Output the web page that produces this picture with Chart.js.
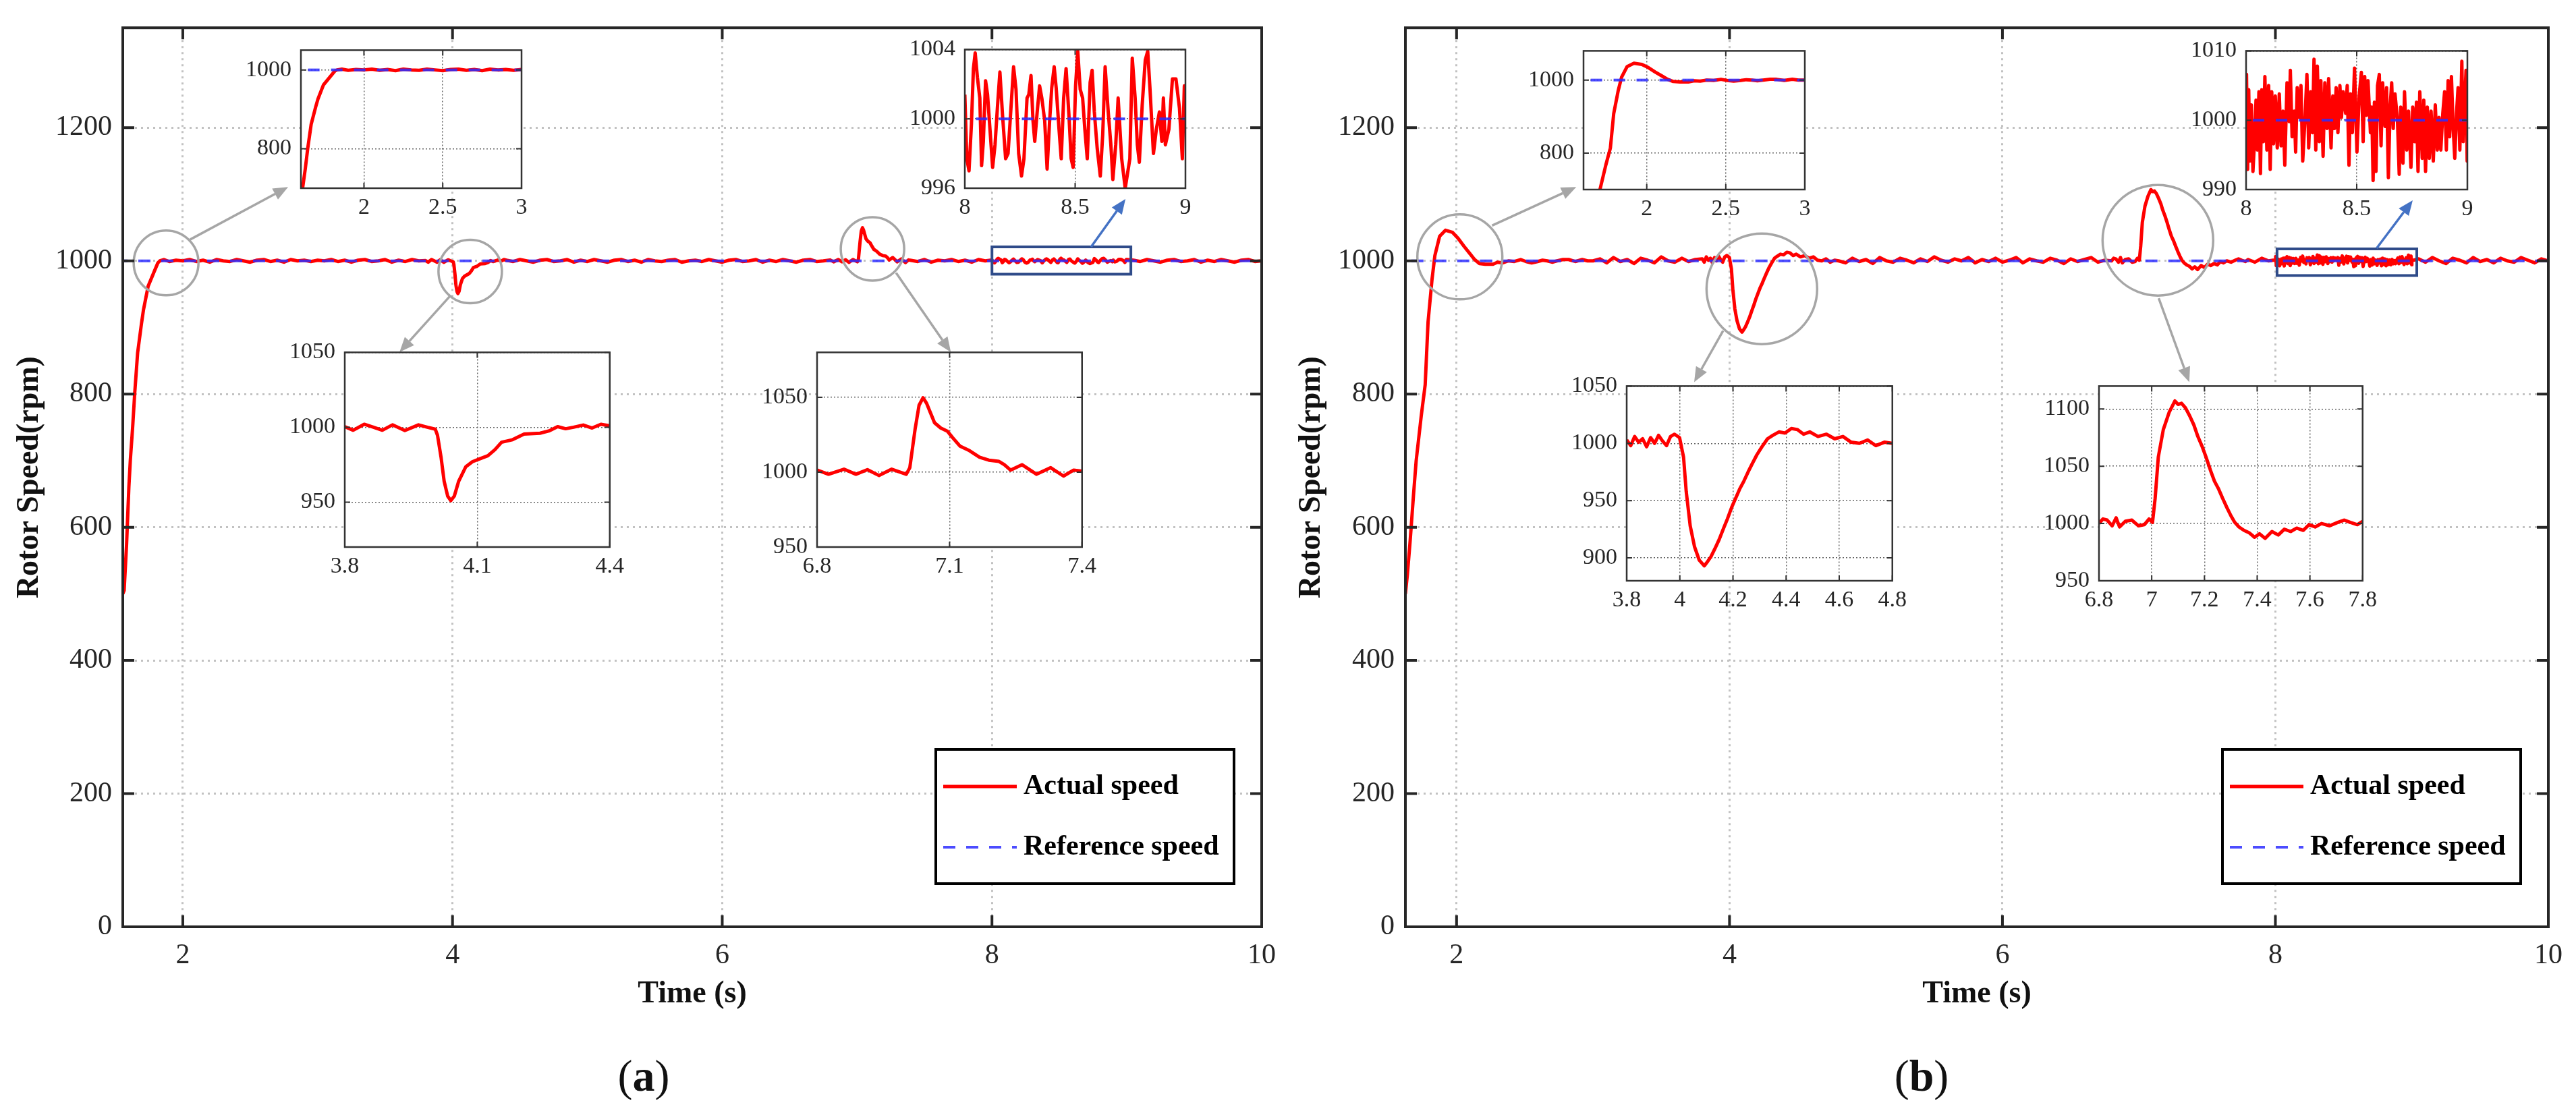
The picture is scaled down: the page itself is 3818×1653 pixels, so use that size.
<!DOCTYPE html>
<html>
<head>
<meta charset="utf-8">
<script src="https://cdn.jsdelivr.net/npm/chart.js@4.4.1/dist/chart.umd.min.js"></script>
<style>
  body { margin: 0; background: #fff; width: 3818px; height: 1653px; position: relative; overflow: hidden; }
  canvas { position: absolute; }
  .cap { position: absolute; top: 1595px; transform: translate(-50%, -50%); font-family: 'Liberation Serif', 'Times New Roman', serif; font-size: 66px; color: #111; white-space: nowrap; }
</style>
</head>
<body>
<canvas id="mainA"></canvas>
<canvas id="mainB"></canvas>
<canvas id="aTL"></canvas><canvas id="aTR"></canvas><canvas id="aBL"></canvas><canvas id="aBR"></canvas>
<canvas id="bTL"></canvas><canvas id="bTR"></canvas><canvas id="bBL"></canvas><canvas id="bBR"></canvas>
<div class="cap" style="left:954px">(<b>a</b>)</div>
<div class="cap" style="left:2848px">(<b>b</b>)</div>
<script>
// ---------- data ----------
// tick labels
const mainXTicks = [2, 4, 6, 8, 10];
const mainYTicks = [0, 200, 400, 600, 800, 1000, 1200];
const startXTicks = [2, 2.5, 3];
const startYTicks = [800, 1000];
const noiseXTicks = [8, 8.5, 9];
const aNoiseYTicks = [996, 1000, 1004];
const bNoiseYTicks = [990, 1000, 1010];
const aDipXTicks = [3.8, 4.1, 4.4];
const aDipYTicks = [950, 1000, 1050];
const aPeakXTicks = [6.8, 7.1, 7.4];
const aPeakYTicks = [950, 1000, 1050];
const bDipXTicks = [3.8, 4, 4.2, 4.4, 4.6, 4.8];
const bDipYTicks = [900, 950, 1000, 1050];
const bPeakXTicks = [6.8, 7, 7.2, 7.4, 7.6, 7.8];
const bPeakYTicks = [950, 1000, 1050, 1100];

// reference speed
const refT = [1.5, 10];
const refV = [1000, 1000];

// (a) actual speed, piece by piece
const aRiseT = [1.555, 1.565, 1.583, 1.6, 1.611, 1.628, 1.643, 1.665, 1.693, 1.708, 1.743, 1.786, 1.815, 1.83, 1.86, 1.9, 1.95, 2.0, 2.05, 2.1, 2.15, 2.2, 2.25, 2.3, 2.35, 2.4, 2.45, 2.5, 2.55, 2.6, 2.65, 2.7, 2.75, 2.8, 2.85, 2.9, 2.95, 3.0];
const aRiseV = [500, 505, 574, 660, 701, 750, 800, 862, 905, 926, 962, 983, 997, 1000, 1002, 999, 1001, 1000, 1002, 999, 1001, 998, 1002, 1000, 999, 1002, 1000, 998, 1001, 1002, 999, 1001, 998, 1002, 1000, 1001, 999, 1001];
const gap1T = [3.05, 3.1, 3.15, 3.2, 3.25, 3.3, 3.35, 3.4, 3.45, 3.5, 3.55, 3.6, 3.65, 3.7, 3.75];
const aGap1V = [1000, 1002, 999, 1001, 998, 1001, 1002, 999, 1000, 1002, 998, 1001, 999, 1002, 1000];
const aDipT = [3.8, 3.819, 3.844, 3.865, 3.885, 3.908, 3.936, 3.967, 3.987, 4.005, 4.01, 4.018, 4.025, 4.033, 4.04, 4.048, 4.058, 4.074, 4.089, 4.104, 4.124, 4.14, 4.155, 4.18, 4.206, 4.242, 4.262, 4.282, 4.3, 4.318, 4.34, 4.36, 4.38, 4.4];
const aDipV = [1000.4, 998, 1002, 1000, 998, 1001.6, 997.8, 1001.6, 1000, 998.7, 994.6, 980, 964, 954, 951, 954, 964, 973.6, 977, 978.7, 981, 985, 990, 991.7, 995.4, 996, 997.5, 1000.4, 999, 1000, 1001.5, 999.5, 1002, 1001];
const aGap2T = [4.45, 4.5, 4.55, 4.6, 4.65, 4.7, 4.75, 4.8, 4.85, 4.9, 4.95, 5.0, 5.05, 5.1, 5.15, 5.2, 5.25, 5.3, 5.35, 5.4, 5.45, 5.5, 5.55, 5.6, 5.65, 5.7, 5.75, 5.8, 5.85, 5.9, 5.95, 6.0, 6.05, 6.1, 6.15, 6.2, 6.25, 6.3, 6.35, 6.4, 6.45, 6.5, 6.55, 6.6, 6.65, 6.7, 6.75];
const aGap2V = [999, 1002, 1000, 998, 1001, 1002, 999, 1000, 1002, 998, 1001, 999, 1002, 1000, 998, 1001, 1002, 999, 1001, 998, 1002, 1000, 999, 1001, 1002, 998, 1000, 1001, 999, 1002, 1000, 998, 1001, 1002, 999, 1000, 1002, 998, 1001, 999, 1002, 1000, 998, 1001, 1002, 999, 1000];
const aPeakT = [6.8, 6.826, 6.861, 6.888, 6.914, 6.94, 6.969, 7.002, 7.01, 7.022, 7.031, 7.04, 7.048, 7.066, 7.08, 7.095, 7.107, 7.124, 7.145, 7.168, 7.189, 7.212, 7.224, 7.238, 7.264, 7.297, 7.329, 7.358, 7.381, 7.4];
const aPeakV = [1001.4, 998.6, 1002, 998.6, 1001.7, 997.8, 1002, 998.6, 1003, 1028.8, 1044.7, 1049.7, 1046, 1033, 1029.5, 1027.4, 1023, 1017.3, 1014.4, 1010, 1008, 1007.2, 1005, 1001.4, 1005, 998.6, 1003, 997.4, 1001.4, 1000.7];
const aGap3T = [7.45, 7.5, 7.55, 7.6, 7.65, 7.7, 7.75, 7.8, 7.85, 7.9, 7.95];
const aGap3V = [999, 1002, 998, 1001, 1000, 1002, 999, 1001, 998, 1002, 1000];
const aNoiseT = [8.000, 8.009, 8.019, 8.030, 8.039, 8.047, 8.057, 8.068, 8.076, 8.084, 8.094, 8.103, 8.114, 8.126, 8.137, 8.148, 8.159, 8.171, 8.185, 8.196, 8.207, 8.221, 8.232, 8.244, 8.257, 8.268, 8.282, 8.290, 8.300, 8.309, 8.317, 8.328, 8.339, 8.349, 8.362, 8.373, 8.384, 8.394, 8.405, 8.414, 8.427, 8.437, 8.448, 8.459, 8.472, 8.482, 8.491, 8.502, 8.512, 8.523, 8.534, 8.544, 8.555, 8.568, 8.577, 8.587, 8.600, 8.614, 8.625, 8.636, 8.650, 8.662, 8.671, 8.684, 8.695, 8.711, 8.727, 8.748, 8.759, 8.772, 8.782, 8.791, 8.804, 8.818, 8.829, 8.839, 8.855, 8.868, 8.882, 8.893, 8.900, 8.909, 8.925, 8.941, 8.957, 8.973, 8.986, 8.995, 9.000];
const aNoiseV = [1001.4, 997.7, 997.0, 999.7, 1002.9, 1003.8, 1002.4, 1001.2, 997.3, 998.7, 1002.2, 1001.4, 999.4, 997.2, 998.5, 1000.7, 1002.7, 1000.2, 997.7, 998.0, 1000.2, 1003.0, 1001.7, 998.0, 996.7, 997.7, 1001.2, 1001.4, 1002.5, 999.9, 998.7, 1000.4, 1001.9, 1001.2, 999.9, 997.1, 999.8, 1001.8, 1003.0, 1001.8, 999.4, 997.7, 1001.2, 1002.9, 1000.2, 997.7, 997.2, 1001.9, 1003.9, 1001.7, 1001.2, 999.4, 997.7, 1002.1, 1002.8, 1000.4, 998.3, 996.7, 999.1, 1003.0, 1000.4, 998.5, 996.5, 998.5, 1001.2, 997.7, 996.0, 997.7, 1003.5, 1001.2, 998.5, 997.5, 1000.8, 1003.4, 1003.9, 1001.8, 998.0, 999.4, 1000.4, 998.7, 1001.2, 998.5, 999.4, 1002.3, 1002.3, 1000.6, 997.7, 1001.9, 1001.9];
const tailT = [9.05, 9.1, 9.15, 9.2, 9.25, 9.3, 9.35, 9.4, 9.45, 9.5, 9.55, 9.6, 9.65, 9.7, 9.75, 9.8, 9.85, 9.9, 9.95, 10.0];
const aTailV = [1001, 999, 1002, 1000, 998, 1001, 1002, 999, 1000, 1002, 998, 1001, 999, 1002, 1000, 998, 1001, 1002, 999, 1000];

// (b) actual speed, piece by piece
const bRiseT = [1.625, 1.64, 1.66, 1.685, 1.704, 1.741, 1.77, 1.791, 1.82, 1.841, 1.876, 1.919, 1.969, 2.011, 2.054, 2.097, 2.132, 2.168, 2.21, 2.267, 2.3, 2.338, 2.38, 2.423, 2.47, 2.509, 2.55, 2.594, 2.63, 2.665, 2.7, 2.736, 2.78, 2.821, 2.87, 2.921, 2.96, 3.0];
const bRiseV = [500, 530, 580, 650, 700, 767, 814, 908, 972, 1008, 1037, 1046, 1043, 1034, 1022, 1011, 1002, 996, 995, 995, 998, 997, 1000, 999, 1002, 999, 997, 999, 1001, 1000, 998, 1000, 1002, 1002, 999, 1002, 1000, 1000];
const bGap1V = [1003, 997, 1005, 999, 1002, 996, 1004, 1001, 997, 1006, 1000, 998, 1004, 999, 1002];
const bDipT = [3.8, 3.815, 3.83, 3.845, 3.86, 3.875, 3.89, 3.905, 3.92, 3.935, 3.95, 3.965, 3.98, 3.999, 4.014, 4.024, 4.039, 4.055, 4.073, 4.092, 4.105, 4.117, 4.132, 4.148, 4.165, 4.179, 4.195, 4.21, 4.225, 4.241, 4.257, 4.272, 4.29, 4.309, 4.33, 4.35, 4.373, 4.396, 4.42, 4.443, 4.466, 4.489, 4.52, 4.552, 4.583, 4.614, 4.645, 4.676, 4.707, 4.738, 4.77, 4.8];
const bDipV = [1003, 998, 1006, 1001, 1004, 997, 1005, 1000, 1007, 1002, 998, 1006, 1008, 1005, 988, 958, 928, 910, 898, 893, 897, 901, 908, 916, 926, 934, 944, 952, 960, 967, 975, 982, 990, 997, 1004, 1007, 1010, 1009, 1013, 1012, 1008, 1010, 1006, 1008, 1004, 1006, 1001, 1000, 1003, 998, 1001, 1000];
const bGap2T = [4.85, 4.9, 4.95, 5.0, 5.05, 5.1, 5.15, 5.2, 5.25, 5.3, 5.35, 5.4, 5.45, 5.5, 5.55, 5.6, 5.65, 5.7, 5.75, 5.8, 5.85, 5.9, 5.95, 6.0, 6.05, 6.1, 6.15, 6.2, 6.25, 6.3, 6.35, 6.4, 6.45, 6.5, 6.55, 6.6, 6.65, 6.7, 6.75];
const bGap2V = [997, 1004, 999, 1002, 996, 1005, 1000, 998, 1004, 1001, 997, 1003, 999, 1006, 1001, 998, 1003, 1000, 1005, 997, 1002, 999, 1004, 998, 1001, 1005, 997, 1003, 1000, 998, 1004, 1001, 996, 1003, 999, 1002, 1005, 998, 1001];
const bPeakT = [6.8, 6.815, 6.831, 6.85, 6.865, 6.878, 6.9, 6.925, 6.95, 6.972, 6.99, 7.003, 7.013, 7.025, 7.044, 7.066, 7.088, 7.1, 7.113, 7.128, 7.144, 7.16, 7.175, 7.19, 7.206, 7.222, 7.238, 7.254, 7.269, 7.285, 7.3, 7.315, 7.331, 7.35, 7.369, 7.39, 7.409, 7.43, 7.456, 7.48, 7.503, 7.527, 7.55, 7.575, 7.597, 7.62, 7.644, 7.675, 7.706, 7.73, 7.753, 7.78, 7.8];
const bPeakV = [1000, 1004, 1003, 998, 1005, 997, 1002, 1003, 998, 999, 1004, 1001, 1022, 1058, 1082, 1097, 1107, 1104, 1105, 1101, 1094, 1086, 1076, 1068, 1058, 1047, 1037, 1030, 1022, 1014, 1007, 1001, 997, 994, 992, 988, 991, 987, 993, 990, 995, 993, 996, 994, 999, 997, 1000, 998, 1001, 1003, 1001, 999, 1002];
const bGap3T = [7.85, 7.9, 7.95];
const bGap3V = [998, 1004, 1000];
const bNoiseT = [8.000, 8.002, 8.007, 8.012, 8.017, 8.024, 8.031, 8.038, 8.045, 8.051, 8.058, 8.065, 8.071, 8.078, 8.085, 8.094, 8.102, 8.109, 8.116, 8.124, 8.132, 8.141, 8.150, 8.158, 8.167, 8.175, 8.185, 8.195, 8.200, 8.208, 8.218, 8.224, 8.231, 8.241, 8.248, 8.256, 8.267, 8.275, 8.283, 8.292, 8.300, 8.307, 8.315, 8.322, 8.331, 8.338, 8.348, 8.356, 8.366, 8.373, 8.384, 8.392, 8.399, 8.407, 8.415, 8.424, 8.431, 8.439, 8.450, 8.457, 8.465, 8.472, 8.480, 8.490, 8.501, 8.511, 8.521, 8.529, 8.536, 8.544, 8.551, 8.562, 8.568, 8.574, 8.580, 8.587, 8.594, 8.602, 8.610, 8.617, 8.628, 8.635, 8.643, 8.651, 8.658, 8.665, 8.673, 8.684, 8.692, 8.699, 8.709, 8.716, 8.726, 8.734, 8.745, 8.753, 8.762, 8.770, 8.777, 8.785, 8.796, 8.803, 8.811, 8.819, 8.828, 8.836, 8.846, 8.855, 8.864, 8.872, 8.880, 8.889, 8.897, 8.905, 8.913, 8.920, 8.928, 8.936, 8.943, 8.951, 8.958, 8.966, 8.975, 8.981, 8.987, 8.994, 8.999, 9.000];
const bNoiseV = [1001.6, 1006.6, 992.9, 1004.4, 994.1, 1002.2, 992.6, 996.9, 1002.9, 995.7, 1004.1, 992.3, 1004.4, 996.9, 1006.3, 995.7, 1005, 992.9, 1004.1, 996.6, 1003.5, 996, 1003.8, 996.3, 1001.3, 993.5, 1005.4, 999.8, 1007.2, 997.6, 1001.3, 995.4, 1004.7, 1000.4, 1005, 994.1, 1000.7, 1006.6, 996, 1004.1, 998.2, 1008.8, 995.7, 1007.8, 996.9, 1005.7, 994.8, 1005.4, 998.8, 1006, 996, 1003.5, 998.8, 1004.7, 998.2, 1005, 1000.4, 1004.1, 1001, 1005, 993.5, 1003.8, 998.2, 1007.5, 995.4, 1003.5, 1006.9, 996.9, 1006.3, 1000.7, 1005.7, 998.2, 1001.9, 991.3, 1002.6, 992.6, 1005, 1006.6, 996.3, 1005.4, 999.1, 1004.7, 991.7, 1001.9, 1005.4, 998.8, 1003.8, 1000.1, 992.2, 1001.9, 993.8, 1004.1, 995.7, 1001.3, 993.2, 1001.9, 996.9, 1002.6, 992.6, 1004.1, 994.5, 1002.9, 992.6, 1001.9, 994.5, 1001.3, 994.1, 1002.2, 995.7, 1000.4, 995.7, 1001, 1004.1, 995.7, 1005.7, 997.6, 1006.3, 998.8, 994.5, 1001, 1004.7, 995.7, 1008.5, 996.9, 1001.9, 1007.2, 994.1, 1000.4];
const bTailV = [1003, 998, 1005, 1000, 996, 1004, 1001, 997, 1005, 999, 1002, 997, 1004, 1000, 998, 1005, 1001, 997, 1003, 1000];

// ---------- helpers ----------
const SERIF = "'Liberation Serif', 'Times New Roman', serif";
Chart.defaults.font.family = SERIF;
Chart.defaults.color = '#262626';
const H = 1653;
const RED = '#ff0000';
const BLUE = 'rgba(45, 45, 255, 0.85)';
const GREY = '#a6a6a6';

function xy(t, v) { return t.map((x, i) => ({ x: x, y: v[i] })); }
function tickList(vals) { return (s) => { s.ticks = vals.map(v => ({ value: v })); }; }

function drawArrow(ctx, x0, y0, x1, y1, color, w, head) {
  const ang = Math.atan2(y1 - y0, x1 - x0);
  const bx = x1 - head * Math.cos(ang), by = y1 - head * Math.sin(ang);
  const hw = head * 0.42;
  ctx.strokeStyle = color; ctx.lineWidth = w;
  ctx.beginPath(); ctx.moveTo(x0, y0); ctx.lineTo(bx, by); ctx.stroke();
  ctx.fillStyle = color;
  ctx.beginPath();
  ctx.moveTo(x1, y1);
  ctx.lineTo(bx + hw * Math.sin(ang), by - hw * Math.cos(ang));
  ctx.lineTo(bx - hw * Math.sin(ang), by + hw * Math.cos(ang));
  ctx.closePath(); ctx.fill();
}

// box + inward ticks on all four sides (matlab "box on")
const framePlugin = {
  id: 'frame',
  beforeDraw(chart, args, o) {
    if (!o.fill) return;
    const a = chart.chartArea, ctx = chart.ctx;
    ctx.save(); ctx.fillStyle = '#fff'; ctx.fillRect(a.left, a.top, a.width, a.height); ctx.restore();
  },
  afterDraw(chart, args, o) {
    const { ctx, chartArea: a, scales: { x, y } } = chart;
    ctx.save();
    ctx.strokeStyle = o.color; ctx.lineWidth = o.tickWidth;
    ctx.beginPath();
    x.ticks.forEach(t => {
      const p = x.getPixelForValue(t.value);
      ctx.moveTo(p, a.bottom); ctx.lineTo(p, a.bottom - o.tick);
      ctx.moveTo(p, a.top); ctx.lineTo(p, a.top + o.tick);
    });
    y.ticks.forEach(t => {
      const p = y.getPixelForValue(t.value);
      ctx.moveTo(a.left, p); ctx.lineTo(a.left + o.tick, p);
      ctx.moveTo(a.right, p); ctx.lineTo(a.right - o.tick, p);
    });
    ctx.stroke();
    ctx.lineWidth = o.width;
    ctx.strokeRect(a.left, a.top, a.width, a.height);
    ctx.restore();
  }
};

// circles, arrows and the zoom box, given in data units of the main axes
const MARKS = {
  mainA: {
    circles: [{ t: 1.876, v: 997, r: 48 }, { t: 4.131, v: 984, r: 47 }, { t: 7.114, v: 1018, r: 47 }],
    arrows: [{ from: [2.054, 1032], to: [2.781, 1111] }, { from: [3.985, 948], to: [3.607, 863] }, { from: [7.289, 982], to: [7.695, 863] }],
    rect: { t0: 8.0, t1: 9.03, v0: 980, v1: 1021 },
    blue: { from: [8.735, 1021], to: [8.99, 1093] }
  },
  mainB: {
    circles: [{ t: 2.024, v: 1006, r: 63 }, { t: 4.237, v: 958, r: 82 }, { t: 7.139, v: 1031, r: 82 }],
    arrows: [{ from: [2.26, 1053], to: [2.877, 1111] }, { from: [3.953, 895], to: [3.741, 818] }, { from: [7.145, 944], to: [7.369, 818] }],
    rect: { t0: 8.012, t1: 9.036, v0: 978, v1: 1018 },
    blue: { from: [8.742, 1019], to: [9.006, 1091] }
  }
};
const marksPlugin = {
  id: 'marks',
  afterDatasetsDraw(chart) {
    const m = MARKS[chart.canvas.id];
    if (!m) return;
    const { ctx, scales: { x, y } } = chart;
    const px = (t) => x.getPixelForValue(t), py = (v) => y.getPixelForValue(v);
    ctx.save();
    ctx.strokeStyle = GREY; ctx.lineWidth = 3.5;
    m.circles.forEach(c => { ctx.beginPath(); ctx.arc(px(c.t), py(c.v), c.r, 0, 2 * Math.PI); ctx.stroke(); });
    m.arrows.forEach(a => drawArrow(ctx, px(a.from[0]), py(a.from[1]), px(a.to[0]), py(a.to[1]), GREY, 3.5, 22));
    ctx.strokeStyle = '#2f4b89'; ctx.lineWidth = 4;
    ctx.strokeRect(px(m.rect.t0), py(m.rect.v1), px(m.rect.t1) - px(m.rect.t0), py(m.rect.v0) - py(m.rect.v1));
    drawArrow(ctx, px(m.blue.from[0]), py(m.blue.from[1]), px(m.blue.to[0]), py(m.blue.to[1]), '#4472c4', 3.5, 22);
    ctx.restore();
  }
};

// legend box in the lower right of the plot
const boxLegendPlugin = {
  id: 'boxLegend',
  afterDraw(chart, args, o) {
    const { ctx, chartArea: a } = chart;
    const L = a.right - o.right - o.w, T = a.bottom - o.bottom - o.h;
    ctx.save();
    ctx.fillStyle = '#fff'; ctx.fillRect(L, T, o.w, o.h);
    ctx.strokeStyle = '#000'; ctx.lineWidth = 4; ctx.strokeRect(L, T, o.w, o.h);
    chart.data.datasets.forEach((ds, i) => {
      const yy = T + o.rows[i];
      ctx.strokeStyle = ds.borderColor; ctx.lineWidth = ds.borderWidth;
      ctx.setLineDash(ds.borderDash || []);
      ctx.beginPath(); ctx.moveTo(L + 11, yy); ctx.lineTo(L + 120, yy); ctx.stroke();
      ctx.setLineDash([]);
      ctx.fillStyle = '#000'; ctx.font = 'bold 42px ' + SERIF; ctx.textBaseline = 'middle';
      ctx.fillText(ds.label, L + 130, yy);
    });
    ctx.restore();
  }
};

// ---------- main plots ----------
function mainChart(id, box, actual, xmin, titlePad) {
  const cv = document.getElementById(id);
  cv.width = box.width; cv.height = H;
  cv.style.left = box.left + 'px'; cv.style.top = '0px';
  return new Chart(cv, {
    type: 'line',
    data: {
      datasets: [
        { label: 'Actual speed', data: actual, borderColor: RED, borderWidth: 5, pointRadius: 0, tension: 0, order: 1, clip: 0, borderJoinStyle: 'round' },
        { label: 'Reference speed', data: xy(refT, refV), borderColor: BLUE, borderWidth: 4, borderDash: [18, 16], pointRadius: 0, order: 0, clip: 0 }
      ]
    },
    options: {
      responsive: false, animation: false, events: [],
      layout: { padding: { top: box.plotT, right: box.left + box.width - box.plotR, left: 0, bottom: 0 } },
      plugins: {
        legend: { display: false }, tooltip: { enabled: false },
        frame: { color: '#262626', width: 4, tick: 17, tickWidth: 4 },
        boxLegend: { w: 442, h: 199, right: 41, bottom: 64, rows: [55, 145] }
      },
      scales: {
        x: {
          type: 'linear', min: xmin, max: 10,
          afterBuildTicks: tickList(mainXTicks),
          afterFit: (s) => { s.height = H - box.plotB; },
          grid: { color: '#c2c2c2', lineWidth: 3, drawTicks: false },
          border: { display: false, dash: [3, 6] },
          ticks: { autoSkip: false, maxRotation: 0, padding: 18, font: { size: 42 }, callback: (v) => String(v) },
          title: { display: true, text: 'Time (s)', color: '#111', font: { size: 46, weight: 'bold' }, padding: { top: 0, bottom: 151 } }
        },
        y: {
          type: 'linear', min: 0, max: 1350,
          afterBuildTicks: tickList(mainYTicks),
          afterFit: (s) => { s.width = box.plotL - box.left; },
          grid: { color: '#c2c2c2', lineWidth: 3, drawTicks: false },
          border: { display: false, dash: [3, 6] },
          ticks: { autoSkip: false, padding: 16, font: { size: 42 }, callback: (v) => String(v) },
          title: { display: true, text: 'Rotor Speed(rpm)', color: '#111', font: { size: 46, weight: 'bold' }, padding: { top: titlePad, bottom: 0 } }
        }
      }
    },
    plugins: [marksPlugin, framePlugin, boxLegendPlugin]
  });
}

const actualA = [].concat(xy(aRiseT, aRiseV), xy(gap1T, aGap1V), xy(aDipT, aDipV), xy(aGap2T, aGap2V), xy(aPeakT, aPeakV), xy(aGap3T, aGap3V), xy(aNoiseT, aNoiseV), xy(tailT, aTailV));
const actualB = [].concat(xy(bRiseT, bRiseV), xy(gap1T, bGap1V), xy(bDipT, bDipV), xy(bGap2T, bGap2V), xy(bPeakT, bPeakV), xy(bGap3T, bGap3V), xy(bNoiseT, bNoiseV), xy(tailT, bTailV));

mainChart('mainA', { left: 0, width: 1909, plotL: 182, plotR: 1876, plotT: 23, plotB: 1374 }, actualA, 1.555, 17);
mainChart('mainB', { left: 1909, width: 1909, plotL: 2083, plotR: 3777, plotT: 23, plotB: 1374 }, actualB, 1.625, 8);

// ---------- zoomed insets ----------
function inset(id, b, series, withRef, xr, yr, xt, yt) {
  const padL = 120, padT = 25, padR = 30, padB = 60;
  const cv = document.getElementById(id);
  cv.width = (b.x1 - b.x0) + padL + padR; cv.height = (b.y1 - b.y0) + padT + padB;
  cv.style.left = (b.x0 - padL) + 'px'; cv.style.top = (b.y0 - padT) + 'px';
  const datasets = [{ data: series, borderColor: RED, borderWidth: 5, pointRadius: 0, tension: 0, order: 1, clip: 0, borderJoinStyle: 'round' }];
  if (withRef) datasets.push({ data: xy(refT, refV), borderColor: BLUE, borderWidth: 4, borderDash: [17, 17], pointRadius: 0, order: 0, clip: 0 });
  return new Chart(cv, {
    type: 'line',
    data: { datasets: datasets },
    options: {
      responsive: false, animation: false, events: [],
      layout: { padding: { top: padT, right: padR, left: 0, bottom: 0 } },
      plugins: { legend: { display: false }, tooltip: { enabled: false }, frame: { fill: true, color: '#333', width: 2.5, tick: 8, tickWidth: 2 } },
      scales: {
        x: {
          type: 'linear', min: xr[0], max: xr[1],
          afterBuildTicks: tickList(xt),
          afterFit: (s) => { s.height = padB; },
          grid: { color: '#666', lineWidth: 1.5, drawTicks: false },
          border: { display: false, dash: [2, 3] },
          ticks: { autoSkip: false, maxRotation: 0, padding: 9, font: { size: 34 }, callback: (v) => String(v) }
        },
        y: {
          type: 'linear', min: yr[0], max: yr[1],
          afterBuildTicks: tickList(yt),
          afterFit: (s) => { s.width = padL; },
          grid: { color: '#666', lineWidth: 1.5, drawTicks: false },
          border: { display: false, dash: [2, 3] },
          ticks: { autoSkip: false, padding: 14, font: { size: 34 }, callback: (v) => String(v) }
        }
      }
    },
    plugins: [framePlugin]
  });
}

inset('aTL', { x0: 446, y0: 65, x1: 773, y1: 279 }, xy(aRiseT, aRiseV), true, [1.6, 3], [700, 1050], startXTicks, startYTicks);
inset('aTR', { x0: 1430, y0: 64, x1: 1757, y1: 279 }, xy(aNoiseT, aNoiseV), true, [8, 9], [996, 1004], noiseXTicks, aNoiseYTicks);
inset('aBL', { x0: 511, y0: 513, x1: 904, y1: 811 }, xy(aDipT, aDipV), false, [3.8, 4.4], [920, 1050], aDipXTicks, aDipYTicks);
inset('aBR', { x0: 1211, y0: 513, x1: 1604, y1: 811 }, xy(aPeakT, aPeakV), false, [6.8, 7.4], [950, 1080], aPeakXTicks, aPeakYTicks);
inset('bTL', { x0: 2347, y0: 66, x1: 2675, y1: 281 }, xy(bRiseT, bRiseV), true, [1.6, 3], [700, 1080], startXTicks, startYTicks);
inset('bTR', { x0: 3329, y0: 66, x1: 3657, y1: 281 }, xy(bNoiseT, bNoiseV), true, [8, 9], [990, 1010], noiseXTicks, bNoiseYTicks);
inset('bBL', { x0: 2411, y0: 563, x1: 2805, y1: 861 }, xy(bDipT, bDipV), false, [3.8, 4.8], [880, 1050], bDipXTicks, bDipYTicks);
inset('bBR', { x0: 3111, y0: 563, x1: 3502, y1: 861 }, xy(bPeakT, bPeakV), false, [6.8, 7.8], [950, 1120], bPeakXTicks, bPeakYTicks);
</script>
</body>
</html>
